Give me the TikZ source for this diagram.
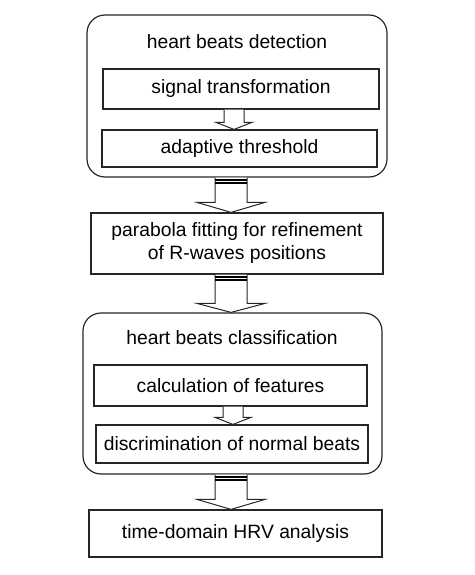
\documentclass[tikz,border=0pt]{standalone}
\usepackage{fontspec}
\setmainfont{Liberation Sans}
\usetikzlibrary{calc}
\begin{document}
\begin{tikzpicture}[x=1pt,y=-1pt,
  box/.style={draw=black!85,line width=1.2pt,fill=white,inner sep=0pt,
    font=\fontsize{19.3}{23}\selectfont,align=center},
  outer/.style={draw=black!85,line width=1.2pt,rounded corners=18pt,inner sep=0pt},
  title/.style={inner sep=0pt,font=\fontsize{19.3}{23}\selectfont},
  arr/.style={draw=black!85,line width=1pt,fill=white,line join=miter}]
\useasboundingbox (0,0) rectangle (474,575);
\newcommand\blockarr[7]{% from, to, xcoord, shaft half, head half, head length, bar
  \draw[arr] ([xshift=-#4]#3 |- #1.south) -- ([xshift=-#4,yshift=#6]#3 |- #2.north)
    -- ([xshift=-#5,yshift=#6]#3 |- #2.north) -- (#3 |- #2.north)
    -- ([xshift=#5,yshift=#6]#3 |- #2.north) -- ([xshift=#4,yshift=#6]#3 |- #2.north)
    -- ([xshift=#4]#3 |- #1.south);
  \ifx#7y
    \draw[line width=1.3pt] ([xshift=-#4,yshift=-2.5]#3 |- #1.south) -- ([xshift=#4,yshift=-2.5]#3 |- #1.south);
    \draw[line width=1.3pt] ([xshift=-#4,yshift=-5.5]#3 |- #1.south) -- ([xshift=#4,yshift=-5.5]#3 |- #1.south);
  \fi}
% group 1
\node[outer,minimum width=300,minimum height=162] (g1) at (237,96) {};
\node[title] (t1) at (237,42) {heart beats detection};
\node[box,minimum width=276,minimum height=40] (sig) at (241,89) {signal transformation};
\node[box,minimum width=275,minimum height=37] (ada) at (239.5,148.5) {adaptive threshold};
% parabola
\node[box,minimum width=292,minimum height=61] (par) at (237,243.5) {parabola fitting for refinement\\of R-waves positions};
% group 2
\node[outer,minimum width=299,minimum height=161] (g2) at (232.5,393.5) {};
\node[title] (t2) at (232,338) {heart beats classification};
\node[box,minimum width=273,minimum height=41] (cal) at (230.5,385.5) {calculation of features};
\node[box,minimum width=272,minimum height=38] (dis) at (232,444) {discrimination of normal beats};
% final
\node[box,minimum width=293,minimum height=47] (hrv) at (235.5,533.5) {time-domain HRV analysis};
% arrow axes
\coordinate (xa) at (234,0);
\coordinate (xb) at (233,0);
\coordinate (xc) at (231,0);
% arrows
\blockarr{sig}{ada}{xa}{10}{18}{7}{n}
\blockarr{cal}{dis}{xb}{10}{18}{7}{n}
\blockarr{g1}{par}{xc}{16}{34}{10}{y}
\blockarr{par}{g2}{xc}{16}{34}{9}{y}
\blockarr{g2}{hrv}{xc}{16}{34}{10}{y}
\end{tikzpicture}
\end{document}
